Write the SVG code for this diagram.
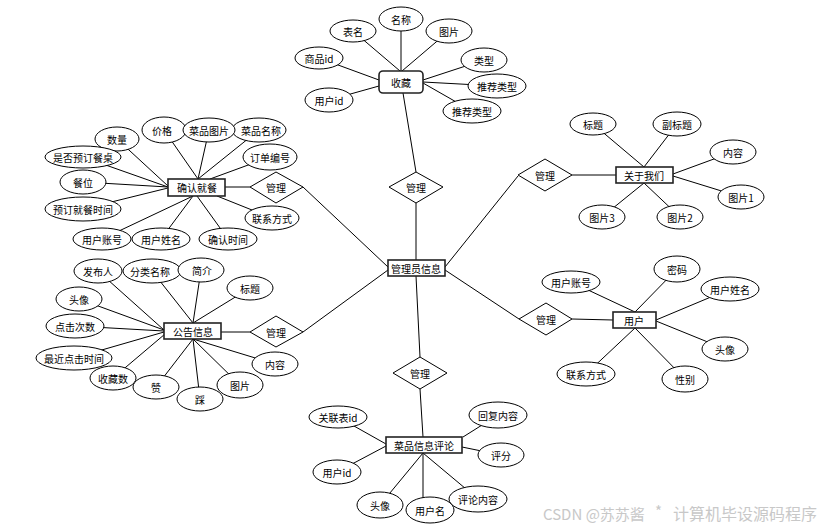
<svg xmlns="http://www.w3.org/2000/svg" width="824" height="530" viewBox="0 0 824 530">
<style>
.e{fill:#fff;stroke:#000;stroke-width:1}
.r{fill:#fff;stroke:#222;stroke-width:1.6}
.d{fill:#fff;stroke:#000;stroke-width:1}
.c line{stroke:#000;stroke-width:1}
text{font-family:"Noto Sans CJK SC","Liberation Sans",sans-serif;font-size:10px;fill:#000;text-anchor:middle;dominant-baseline:central}
.wm{font-size:15px;fill:#c8c8c8;text-anchor:start}
</style>
<rect width="824" height="530" fill="#fff"/>
<g class="c" id="connectors">
<line x1="353" y1="31" x2="400" y2="71"/>
<line x1="401" y1="19" x2="401" y2="71"/>
<line x1="449" y1="31" x2="402" y2="71"/>
<line x1="319" y1="58" x2="379" y2="80"/>
<line x1="329" y1="100" x2="379" y2="86"/>
<line x1="484" y1="60" x2="423" y2="80"/>
<line x1="497" y1="86" x2="423" y2="82"/>
<line x1="472" y1="111" x2="423" y2="83"/>
<line x1="403" y1="93" x2="416" y2="172"/>
<line x1="416" y1="203" x2="416" y2="260"/>
<line x1="303" y1="187" x2="388" y2="267"/>
<line x1="303" y1="332" x2="388" y2="270"/>
<line x1="445" y1="267" x2="518" y2="176"/>
<line x1="445" y1="270" x2="519" y2="319"/>
<line x1="416" y1="276" x2="420" y2="357"/>
<line x1="420" y1="389" x2="423" y2="437"/>
<line x1="117" y1="139" x2="168" y2="186"/>
<line x1="83" y1="157" x2="168" y2="187"/>
<line x1="83" y1="182" x2="168" y2="187"/>
<line x1="83" y1="209" x2="168" y2="188"/>
<line x1="164" y1="130" x2="198" y2="179"/>
<line x1="209" y1="130" x2="198" y2="179"/>
<line x1="259" y1="130" x2="198" y2="179"/>
<line x1="270" y1="157" x2="210" y2="179"/>
<line x1="272" y1="218" x2="217" y2="196"/>
<line x1="102" y1="239" x2="193" y2="196"/>
<line x1="161" y1="239" x2="193" y2="196"/>
<line x1="228" y1="239" x2="197" y2="196"/>
<line x1="225" y1="187" x2="250" y2="187"/>
<line x1="98" y1="271" x2="164" y2="330"/>
<line x1="79" y1="299" x2="164" y2="330"/>
<line x1="75" y1="326" x2="164" y2="331"/>
<line x1="74" y1="358" x2="164" y2="332"/>
<line x1="113" y1="378" x2="165" y2="334"/>
<line x1="152" y1="271" x2="193" y2="323"/>
<line x1="201" y1="270" x2="193" y2="323"/>
<line x1="250" y1="288" x2="193" y2="323"/>
<line x1="156" y1="387" x2="193" y2="339"/>
<line x1="200" y1="399" x2="193" y2="339"/>
<line x1="240" y1="385" x2="193" y2="339"/>
<line x1="275" y1="364" x2="193" y2="339"/>
<line x1="221" y1="332" x2="250" y2="332"/>
<line x1="593" y1="124" x2="644" y2="167"/>
<line x1="677" y1="124" x2="644" y2="167"/>
<line x1="733" y1="152" x2="673" y2="174"/>
<line x1="741" y1="197" x2="673" y2="176"/>
<line x1="680" y1="217" x2="644" y2="183"/>
<line x1="602" y1="217" x2="644" y2="183"/>
<line x1="572" y1="175" x2="616" y2="175"/>
<line x1="571" y1="282" x2="635" y2="312"/>
<line x1="677" y1="269" x2="635" y2="312"/>
<line x1="730" y1="289" x2="656" y2="320"/>
<line x1="725" y1="349" x2="656" y2="321"/>
<line x1="685" y1="379" x2="635" y2="328"/>
<line x1="586" y1="374" x2="635" y2="328"/>
<line x1="572" y1="319" x2="613" y2="320"/>
<line x1="338" y1="417" x2="386" y2="444"/>
<line x1="337" y1="472" x2="386" y2="446"/>
<line x1="380" y1="505" x2="423" y2="453"/>
<line x1="423" y1="453" x2="423" y2="505"/>
<line x1="478" y1="499" x2="423" y2="453"/>
<line x1="498" y1="415" x2="463" y2="437"/>
<line x1="501" y1="455" x2="462" y2="447"/>
</g>

<g id="n-shoucang"><rect class="r" x="379" y="71" width="44" height="22" rx="4"/><text x="401" y="82">收藏</text></g>
<g id="a-biaoming"><ellipse class="e" cx="353" cy="31" rx="23" ry="11"/><text x="353" y="31">表名</text></g>
<g id="a-mingcheng"><ellipse class="e" cx="401" cy="19" rx="22" ry="12"/><text x="401" y="19">名称</text></g>
<g id="a-tupian0"><ellipse class="e" cx="449" cy="31" rx="23" ry="12"/><text x="449" y="31">图片</text></g>
<g id="a-shangpinid"><ellipse class="e" cx="319" cy="58" rx="24" ry="11"/><text x="319" y="58">商品id</text></g>
<g id="a-leixing"><ellipse class="e" cx="484" cy="60" rx="23" ry="12"/><text x="484" y="60">类型</text></g>
<g id="a-tuijian1"><ellipse class="e" cx="497" cy="86" rx="29" ry="12"/><text x="497" y="86">推荐类型</text></g>
<g id="a-tuijian2"><ellipse class="e" cx="472" cy="111" rx="29" ry="12"/><text x="472" y="111">推荐类型</text></g>
<g id="a-yonghuid0"><ellipse class="e" cx="329" cy="100" rx="24" ry="12"/><text x="329" y="100">用户id</text></g>

<g id="r-top"><polygon class="d" points="416,172 443,187 416,203 389,187"/><text x="416" y="187">管理</text></g>
<g id="r-left1"><polygon class="d" points="276,172 303,187 276,203 250,187"/><text x="276" y="187">管理</text></g>
<g id="r-left2"><polygon class="d" points="276,316 303,332 276,347 250,332"/><text x="276" y="332">管理</text></g>
<g id="r-right1"><polygon class="d" points="545,159 572,175 545,191 518,175"/><text x="545" y="175">管理</text></g>
<g id="r-right2"><polygon class="d" points="546,303 572,319 546,335 519,319"/><text x="546" y="319">管理</text></g>
<g id="r-bottom"><polygon class="d" points="420,357 447,373 420,389 393,373"/><text x="420" y="373">管理</text></g>

<g id="n-admin"><rect class="r" x="388" y="260" width="57" height="16"/><text x="416" y="268">管理员信息</text></g>

<g id="n-queren"><rect class="r" x="168" y="179" width="57" height="17"/><text x="197" y="187">确认就餐</text></g>
<g id="a-shuliang"><ellipse class="e" cx="117" cy="139" rx="22" ry="12"/><text x="117" y="139">数量</text></g>
<g id="a-jiage"><ellipse class="e" cx="164" cy="130" rx="22" ry="13"/><text x="162" y="130">价格</text></g>
<g id="a-caipinmingcheng"><ellipse class="e" cx="259" cy="130" rx="27" ry="12"/><text x="261" y="130">菜品名称</text></g>
<g id="a-caipintupian"><ellipse class="e" cx="209" cy="130" rx="26" ry="12"/><text x="209" y="130">菜品图片</text></g>
<g id="a-dingdan"><ellipse class="e" cx="270" cy="157" rx="27" ry="13"/><text x="270" y="157">订单编号</text></g>
<g id="a-shifou"><ellipse class="e" cx="83" cy="157" rx="38" ry="11"/><text x="83" y="157">是否预订餐桌</text></g>
<g id="a-canwei"><ellipse class="e" cx="83" cy="182" rx="23" ry="12"/><text x="83" y="182">餐位</text></g>
<g id="a-yuding"><ellipse class="e" cx="83" cy="209" rx="38" ry="12"/><text x="83" y="209">预订就餐时间</text></g>
<g id="a-zhanghao1"><ellipse class="e" cx="102" cy="239" rx="29" ry="11"/><text x="102" y="239">用户账号</text></g>
<g id="a-xingming1"><ellipse class="e" cx="161" cy="239" rx="29" ry="11"/><text x="161" y="239">用户姓名</text></g>
<g id="a-querenshijian"><ellipse class="e" cx="228" cy="239" rx="29" ry="11"/><text x="228" y="239">确认时间</text></g>
<g id="a-lianxi1"><ellipse class="e" cx="272" cy="218" rx="27" ry="12"/><text x="272" y="218">联系方式</text></g>

<g id="n-gonggao"><rect class="r" x="164" y="323" width="57" height="16"/><text x="193" y="331">公告信息</text></g>
<g id="a-fabuern"><ellipse class="e" cx="98" cy="271" rx="24" ry="12"/><text x="98" y="271">发布人</text></g>
<g id="a-fenlei"><ellipse class="e" cx="152" cy="271" rx="29" ry="12"/><text x="150" y="271">分类名称</text></g>
<g id="a-jianjie"><ellipse class="e" cx="201" cy="270" rx="23" ry="12"/><text x="202" y="270">简介</text></g>
<g id="a-biaoti1"><ellipse class="e" cx="250" cy="288" rx="23" ry="12"/><text x="250" y="288">标题</text></g>
<g id="a-touxiang1"><ellipse class="e" cx="79" cy="299" rx="23" ry="12"/><text x="79" y="299">头像</text></g>
<g id="a-dianji"><ellipse class="e" cx="75" cy="326" rx="29" ry="12"/><text x="75" y="326">点击次数</text></g>
<g id="a-zuijin"><ellipse class="e" cx="74" cy="358" rx="38" ry="12"/><text x="74" y="358">最近点击时间</text></g>
<g id="a-shoucangshu"><ellipse class="e" cx="113" cy="378" rx="23" ry="12"/><text x="113" y="378">收藏数</text></g>
<g id="a-zan"><ellipse class="e" cx="156" cy="387" rx="23" ry="12"/><text x="156" y="387">赞</text></g>
<g id="a-cai"><ellipse class="e" cx="200" cy="399" rx="23" ry="12"/><text x="200" y="399">踩</text></g>
<g id="a-tupian1"><ellipse class="e" cx="240" cy="385" rx="23" ry="13"/><text x="240" y="385">图片</text></g>
<g id="a-neirong1"><ellipse class="e" cx="275" cy="364" rx="23" ry="12"/><text x="275" y="364">内容</text></g>

<g id="n-guanyu"><rect class="r" x="616" y="167" width="57" height="16"/><text x="644" y="175">关于我们</text></g>
<g id="a-biaoti2"><ellipse class="e" cx="593" cy="124" rx="23" ry="11"/><text x="593" y="124">标题</text></g>
<g id="a-fubiaoti"><ellipse class="e" cx="677" cy="124" rx="24" ry="12"/><text x="677" y="124">副标题</text></g>
<g id="a-neirong2"><ellipse class="e" cx="733" cy="152" rx="23" ry="12"/><text x="733" y="152">内容</text></g>
<g id="a-tupian_1"><ellipse class="e" cx="741" cy="197" rx="23" ry="12"/><text x="741" y="197">图片1</text></g>
<g id="a-tupian_2"><ellipse class="e" cx="680" cy="217" rx="23" ry="12"/><text x="680" y="217">图片2</text></g>
<g id="a-tupian_3"><ellipse class="e" cx="602" cy="217" rx="23" ry="12"/><text x="602" y="217">图片3</text></g>

<g id="n-yonghu"><rect class="r" x="613" y="312" width="43" height="16"/><text x="634" y="320">用户</text></g>
<g id="a-zhanghao2"><ellipse class="e" cx="571" cy="282" rx="29" ry="11"/><text x="571" y="282">用户账号</text></g>
<g id="a-mima"><ellipse class="e" cx="677" cy="269" rx="23" ry="13"/><text x="677" y="269">密码</text></g>
<g id="a-xingming2"><ellipse class="e" cx="730" cy="289" rx="29" ry="12"/><text x="730" y="289">用户姓名</text></g>
<g id="a-touxiang2"><ellipse class="e" cx="725" cy="349" rx="23" ry="12"/><text x="725" y="349">头像</text></g>
<g id="a-xingbie"><ellipse class="e" cx="685" cy="379" rx="23" ry="13"/><text x="685" y="379">性别</text></g>
<g id="a-lianxi2"><ellipse class="e" cx="586" cy="374" rx="29" ry="12"/><text x="586" y="374">联系方式</text></g>

<g id="n-pinglun"><rect class="r" x="386" y="437" width="76" height="16"/><text x="424" y="445">菜品信息评论</text></g>
<g id="a-guanlianbiao"><ellipse class="e" cx="338" cy="417" rx="29" ry="11"/><text x="338" y="417">关联表id</text></g>
<g id="a-yonghuid3"><ellipse class="e" cx="337" cy="472" rx="24" ry="12"/><text x="337" y="472">用户id</text></g>
<g id="a-touxiang3"><ellipse class="e" cx="380" cy="505" rx="23" ry="13"/><text x="380" y="505">头像</text></g>
<g id="a-yonghuming"><ellipse class="e" cx="430" cy="510" rx="24" ry="13"/><text x="430" y="510">用户名</text></g>
<g id="a-pinglunneirong"><ellipse class="e" cx="478" cy="499" rx="29" ry="13"/><text x="478" y="499">评论内容</text></g>
<g id="a-huifu"><ellipse class="e" cx="498" cy="415" rx="29" ry="13"/><text x="498" y="415">回复内容</text></g>
<g id="a-pingfen"><ellipse class="e" cx="501" cy="455" rx="23" ry="12"/><text x="501" y="455">评分</text></g>

<text class="wm" x="543" y="513">CSDN @苏苏酱</text>
<text class="wm" x="655" y="510">*</text>
<text class="wm" x="673" y="513" style="font-size:16px">计算机毕设源码程序</text>
</svg>
